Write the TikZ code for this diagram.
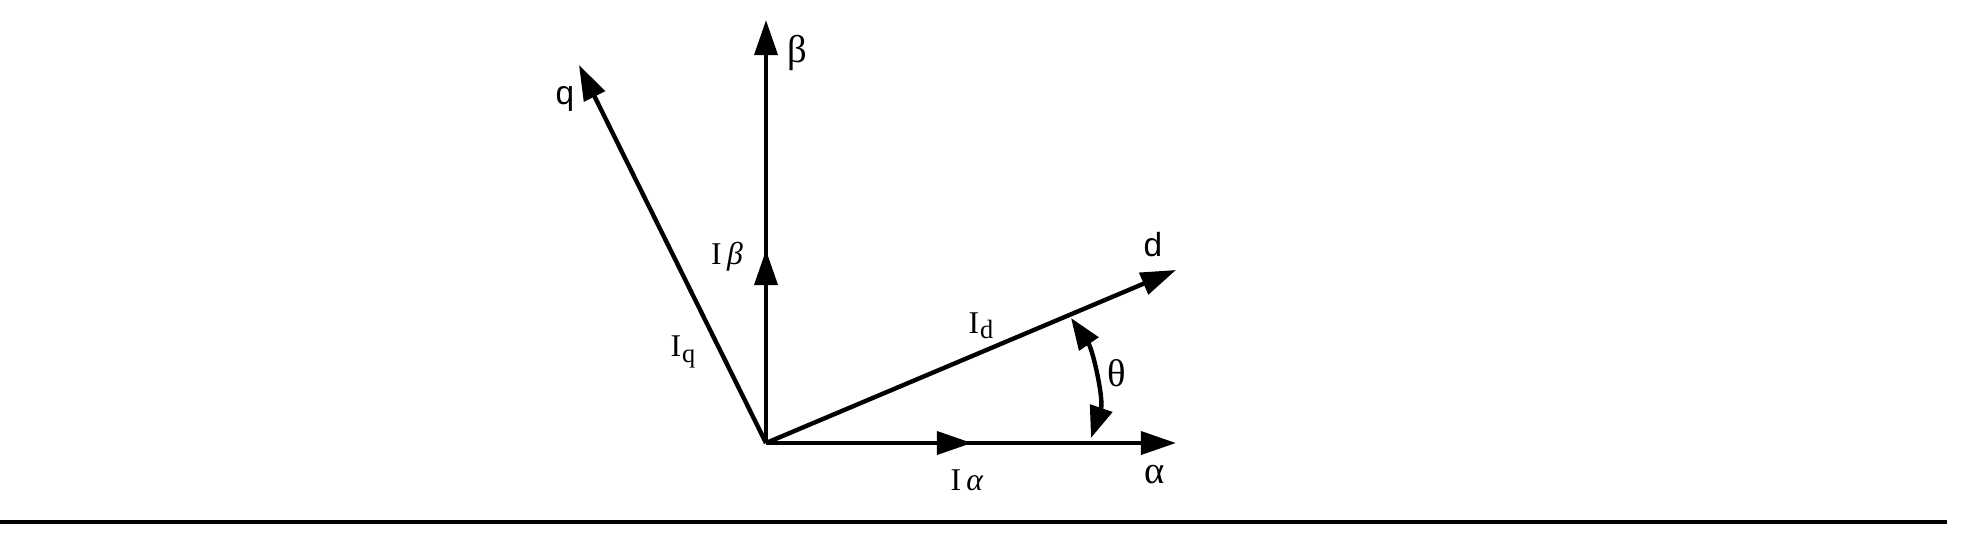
\documentclass[tikz,border=0pt]{standalone}
\usepackage{fontspec}
\setmainfont{Liberation Serif}
\setsansfont{Liberation Sans}
\usetikzlibrary{arrows.meta}
\begin{document}
\begin{tikzpicture}[x=0.01cm,y=-0.01cm,
    vec/.style={line width=1.25pt,-{Triangle[length=10pt,width=6.5pt]}},
    anglearc/.style={line width=1.25pt,{Triangle[length=9pt,width=6.5pt]}-{Triangle[length=9pt,width=6.5pt]}},
    axlabel/.style={font=\fontsize{11}{13}\selectfont},
    framelabel/.style={font=\sffamily\fontsize{9.5}{11}\selectfont},
    curlabel/.style={font=\fontsize{9}{11}\selectfont}]
  \useasboundingbox (0,0) rectangle (1963,539);
  % origin and vector ends
  \coordinate (O) at (766,443);
  \coordinate (A) at (1176,443);
  \coordinate (B) at (766,20);
  \coordinate (D) at (1176,270);
  \coordinate (Q) at (579,65);
  \coordinate (IA) at (972,443);
  \coordinate (IB) at (766,250);
  \coordinate (T1) at (1071,318);
  \coordinate (T2) at (1091,438);
  \coordinate (L) at (0,522);
  \coordinate (R) at (1947,522);

  \draw[vec] (O) -- (A);
  \draw[vec] (O) -- (IA);
  \draw[vec] (O) -- (B);
  \draw[vec] (O) -- (IB);
  \draw[vec] (O) -- (D);
  \draw[vec] (O) -- (Q);
  % angle theta
  \draw[anglearc] (T1) .. controls (1093,350) and (1104,400) .. (T2);

  % labels
  \node[axlabel] (la) at (1155,475) {α};
  \node[axlabel] (lb) at (797,53) {β};
  \node[axlabel] (lt) at (1117,373) {θ};
  \node[framelabel] (ld) at (1153,245) {d};
  \node[framelabel] (lq) at (565,99) {q};
  \node[curlabel] (lia) at (967,480) {I\,\textit{α}};
  \node[curlabel] (lib) at (727,257) {I\,\textit{β}};
  \node[curlabel] (liq) at (683,352) {I\kern0.3pt\raisebox{-0.45ex}{\fontsize{7.5}{8}\selectfont q}};
  \node[curlabel] (lid) at (981,326) {I\kern0.3pt\raisebox{-0.35ex}{\fontsize{7.5}{8}\selectfont d}};

  \draw[line width=0.95pt] (L) -- (R);
\end{tikzpicture}
\end{document}
